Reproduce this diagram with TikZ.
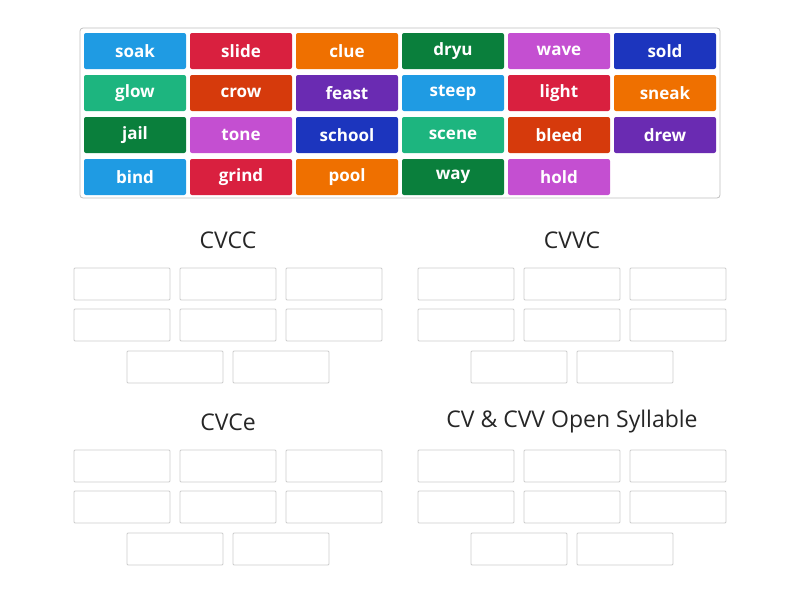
\documentclass[tikz,border=0pt]{standalone}
\usepackage{fontspec}
\setmainfont{Open Sans}
\usepackage{tikz}

% tile colours
\definecolor{cBlue}{HTML}{1F9BE3}
\definecolor{cRed}{HTML}{D9203F}
\definecolor{cOrange}{HTML}{EF7000}
\definecolor{cGreen}{HTML}{0A7F3C}
\definecolor{cMagenta}{HTML}{C44FD1}
\definecolor{cNavy}{HTML}{1C35BE}
\definecolor{cTeal}{HTML}{1DB57F}
\definecolor{cRust}{HTML}{D63A0C}
\definecolor{cPurple}{HTML}{6A2BB2}

\tikzset{
  tile/.style={rounded corners=2pt, minimum width=102pt, minimum height=36pt,
    inner sep=0pt, text=white, font=\fontsize{17}{17}\selectfont\bfseries},
  slot/.style={draw=black!20, line width=0.8pt, fill=white, rounded corners=1pt,
    minimum width=96pt, minimum height=32pt, inner sep=0pt},
  heading/.style={font=\fontsize{23}{23}\selectfont, text=black!85}
}

\begin{document}
\begin{tikzpicture}[x=1pt,y=-1pt]
\useasboundingbox (0,0) rectangle (800,600);

% word bank
\draw [black!25, line width=0.8pt, rounded corners=3pt] (80,28) rectangle (720,198);
\foreach \word/\col/\row/\clr in {
  soak/0/0/cBlue, slide/1/0/cRed, clue/2/0/cOrange, dryu/3/0/cGreen, wave/4/0/cMagenta, sold/5/0/cNavy,
  glow/0/1/cTeal, crow/1/1/cRust, feast/2/1/cPurple, steep/3/1/cBlue, light/4/1/cRed, sneak/5/1/cOrange,
  jail/0/2/cGreen, tone/1/2/cMagenta, school/2/2/cNavy, scene/3/2/cTeal, bleed/4/2/cRust, drew/5/2/cPurple,
  bind/0/3/cBlue, grind/1/3/cRed, pool/2/3/cOrange, way/3/3/cGreen, hold/4/3/cMagenta}
  \node [tile, fill=\clr] (w-\word) at (135+106*\col, 51+42*\row) {\word};

% groups
\foreach \name/\title/\gx/\gy in {cvcc/CVCC/0/0, cvvc/CVVC/344/0, cvce/CVCe/0/182,
    open/{CV \& CVV Open Syllable}/344/182} {
  \node [heading] (h-\name) at (228+\gx, 240+\gy) {\title};
  \foreach \c in {0,1,2}
    \foreach \r in {0,1}
      \node [slot] (s-\name-\r\c) at (122+106*\c+\gx, 284+41*\r+\gy) {};
  \node [slot] (s-\name-20) at (175+\gx, 367+\gy) {};
  \node [slot] (s-\name-21) at (281+\gx, 367+\gy) {};
}
\end{tikzpicture}
\end{document}
